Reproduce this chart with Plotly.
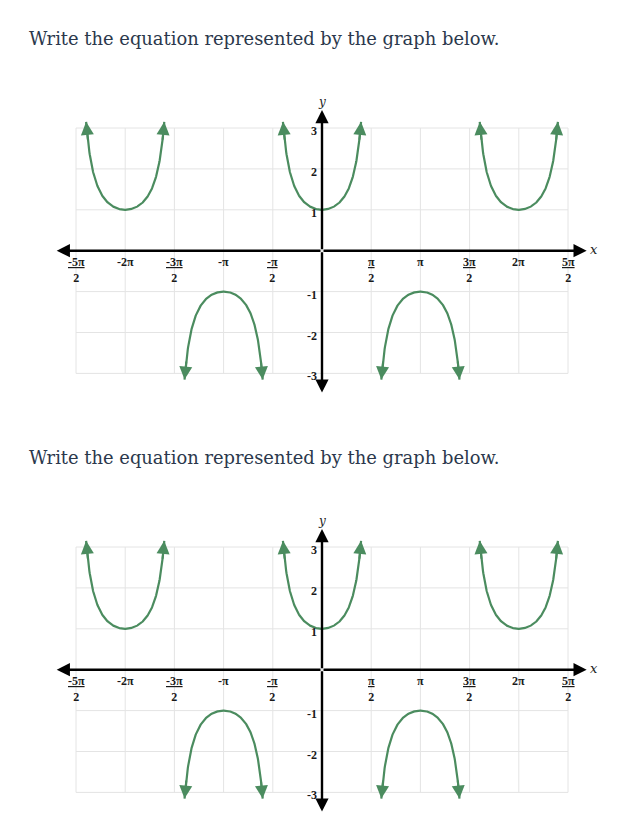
import numpy as np
import plotly.graph_objects as go

# ---------------- data ----------------
heading = "Write the equation represented by the graph below."
x_tick_multiples = [-5, -4, -3, -2, -1, 1, 2, 3, 4, 5]          # in units of π/2
x_tick_labels = ["<u>-5π</u><br>2", "-2π", "<u>-3π</u><br>2", "-π", "<u>-π</u><br>2",
                 "<u>π</u><br>2", "π", "<u>3π</u><br>2", "2π", "<u>5π</u><br>2"]
y_tick_values = [-3, -2, -1, 1, 2, 3]
y_tick_labels = ["-3", "-2", "-1", "1", "2", "3"]
grid_x_multiples = [-5, -4, -3, -2, -1, 0, 1, 2, 3, 4, 5]       # in units of π/2
grid_y_values = [-3, -2, -1, 0, 1, 2, 3]
branch_centers = [-2, -1, 0, 1, 2]                              # in units of π (y = sec x)
branch_end_y = 3.15                                             # |y| where each branch ends
x_axis_ends = [-8.47, 8.45]
y_axis_ends = [-3.47, 3.44]

# ---------------- layout constants (page pixels) ----------------
PAGE_MARGIN = 8               # default body margin of the html page
W, H = 636 - 2 * PAGE_MARGIN, 834 - 2 * PAGE_MARGIN
X0_PX = 322.0                 # page pixel of x = 0
XS = 492.0 / (5 * np.pi)      # px per unit x
Y0_PX = 250.7                 # page pixel of y = 0 (first chart)
YS = 40.9                     # px per unit y
CHART_OFFSET = 419.0
DOM_X_PX = (30.0, 625.0)
DOM_Y_PX = (88.0, 405.0)
HEAD_Y_PX = 38.5
HEAD_X_PX = 27.0


def fx(px):
    return (px - PAGE_MARGIN) / W


def fy(px):
    return 1 - (px - PAGE_MARGIN) / H


GREEN = "#4b8c5f"
GRID = "#e4e4e4"
TEXT = "#2b384c"
LABEL = "#1a1a1a"
LABEL_FONT = dict(family="Liberation Serif", size=12, color=LABEL)

fig = go.Figure()
shapes = []
annotations = []

for k in range(2):
    off = k * CHART_OFFSET
    xa = "x" if k == 0 else "x2"
    ya = "y" if k == 0 else "y2"
    xkey = "xaxis" if k == 0 else "xaxis2"
    ykey = "yaxis" if k == 0 else "yaxis2"
    y0px = Y0_PX + off
    top, bot = DOM_Y_PX[0] + off, DOM_Y_PX[1] + off
    xr = [(DOM_X_PX[0] - X0_PX) / XS, (DOM_X_PX[1] - X0_PX) / XS]
    yr = [(y0px - bot) / YS, (y0px - top) / YS]
    fig.update_layout(**{
        xkey: dict(domain=[fx(DOM_X_PX[0]), fx(DOM_X_PX[1])], range=xr, visible=False,
                   fixedrange=True, anchor=ya),
        ykey: dict(domain=[fy(bot), fy(top)], range=yr, visible=False,
                   fixedrange=True, anchor=xa),
    })

    # heading
    annotations.append(dict(xref="paper", yref="paper", x=fx(HEAD_X_PX), y=fy(HEAD_Y_PX + off),
                            xanchor="left", yanchor="middle", text=heading, showarrow=False,
                            font=dict(family="DejaVu Serif", size=17.9, color=TEXT)))

    # grid
    gx = [m * np.pi / 2 for m in grid_x_multiples]
    for xv in gx:
        shapes.append(dict(type="line", xref=xa, yref=ya, x0=xv, x1=xv,
                           y0=min(grid_y_values), y1=max(grid_y_values),
                           line=dict(color=GRID, width=1), layer="below"))
    for yv in grid_y_values:
        shapes.append(dict(type="line", xref=xa, yref=ya, x0=min(gx), x1=max(gx),
                           y0=yv, y1=yv, line=dict(color=GRID, width=1), layer="below"))

    # axes with arrows
    for xe in x_axis_ends:
        annotations.append(dict(xref=xa, yref=ya, axref=xa, ayref=ya, x=xe, y=0, ax=0, ay=0,
                                text="", showarrow=True, arrowhead=2, arrowsize=1.1,
                                arrowwidth=2.4, arrowcolor="#000000", standoff=0))
    for ye in y_axis_ends:
        annotations.append(dict(xref=xa, yref=ya, axref=xa, ayref=ya, x=0, y=ye, ax=0, ay=0,
                                text="", showarrow=True, arrowhead=2, arrowsize=1.1,
                                arrowwidth=2.4, arrowcolor="#000000", standoff=0))
    annotations.append(dict(xref=xa, yref=ya, x=x_axis_ends[1], y=0, xanchor="left",
                            yanchor="middle", xshift=1, yshift=1, text="<i>x</i>", showarrow=False,
                            font=dict(family="DejaVu Serif", size=13, color="#222222")))
    annotations.append(dict(xref=xa, yref=ya, x=0, y=y_axis_ends[1], xanchor="center",
                            yanchor="bottom", yshift=-1, text="<i>y</i>", showarrow=False,
                            font=dict(family="DejaVu Serif", size=12, color="#222222")))

    # tick labels
    for m, lab in zip(x_tick_multiples, x_tick_labels):
        annotations.append(dict(xref=xa, yref=ya, x=m * np.pi / 2, y=0, xanchor="center",
                                yanchor="top", yshift=-2, text="<b>" + lab + "</b>",
                                showarrow=False, align="center", font=LABEL_FONT))
    for v, lab in zip(y_tick_values, y_tick_labels):
        annotations.append(dict(xref=xa, yref=ya, x=0, y=v, xanchor="right", yanchor="middle",
                                xshift=-3, yshift=-3, text="<b>" + lab + "</b>",
                                showarrow=False, font=LABEL_FONT))

    # curves y = sec(x)
    half = np.arccos(1.0 / branch_end_y)
    for c in branch_centers:
        xc = c * np.pi
        xs = np.linspace(xc - half, xc + half, 240)
        ys = 1.0 / np.cos(xs)
        fig.add_trace(go.Scatter(x=xs, y=ys, mode="lines", xaxis=xa, yaxis=ya,
                                 line=dict(color=GREEN, width=2.2), hoverinfo="skip",
                                 showlegend=False))
        for sgn in (-1, 1):
            xt = xc + sgn * half
            xb = xc + sgn * (half - 0.06)
            annotations.append(dict(xref=xa, yref=ya, axref=xa, ayref=ya,
                                    x=xt, y=1.0 / np.cos(xt), ax=xb, ay=1.0 / np.cos(xb),
                                    text="", showarrow=True, arrowhead=2, arrowsize=1.3,
                                    arrowwidth=2, arrowcolor=GREEN, standoff=0))

fig.update_layout(width=W, height=H, margin=dict(l=0, r=0, t=0, b=0),
                  paper_bgcolor="#ffffff", plot_bgcolor="rgba(0,0,0,0)",
                  shapes=shapes, annotations=annotations, showlegend=False)

fig.write_html("out.html")
